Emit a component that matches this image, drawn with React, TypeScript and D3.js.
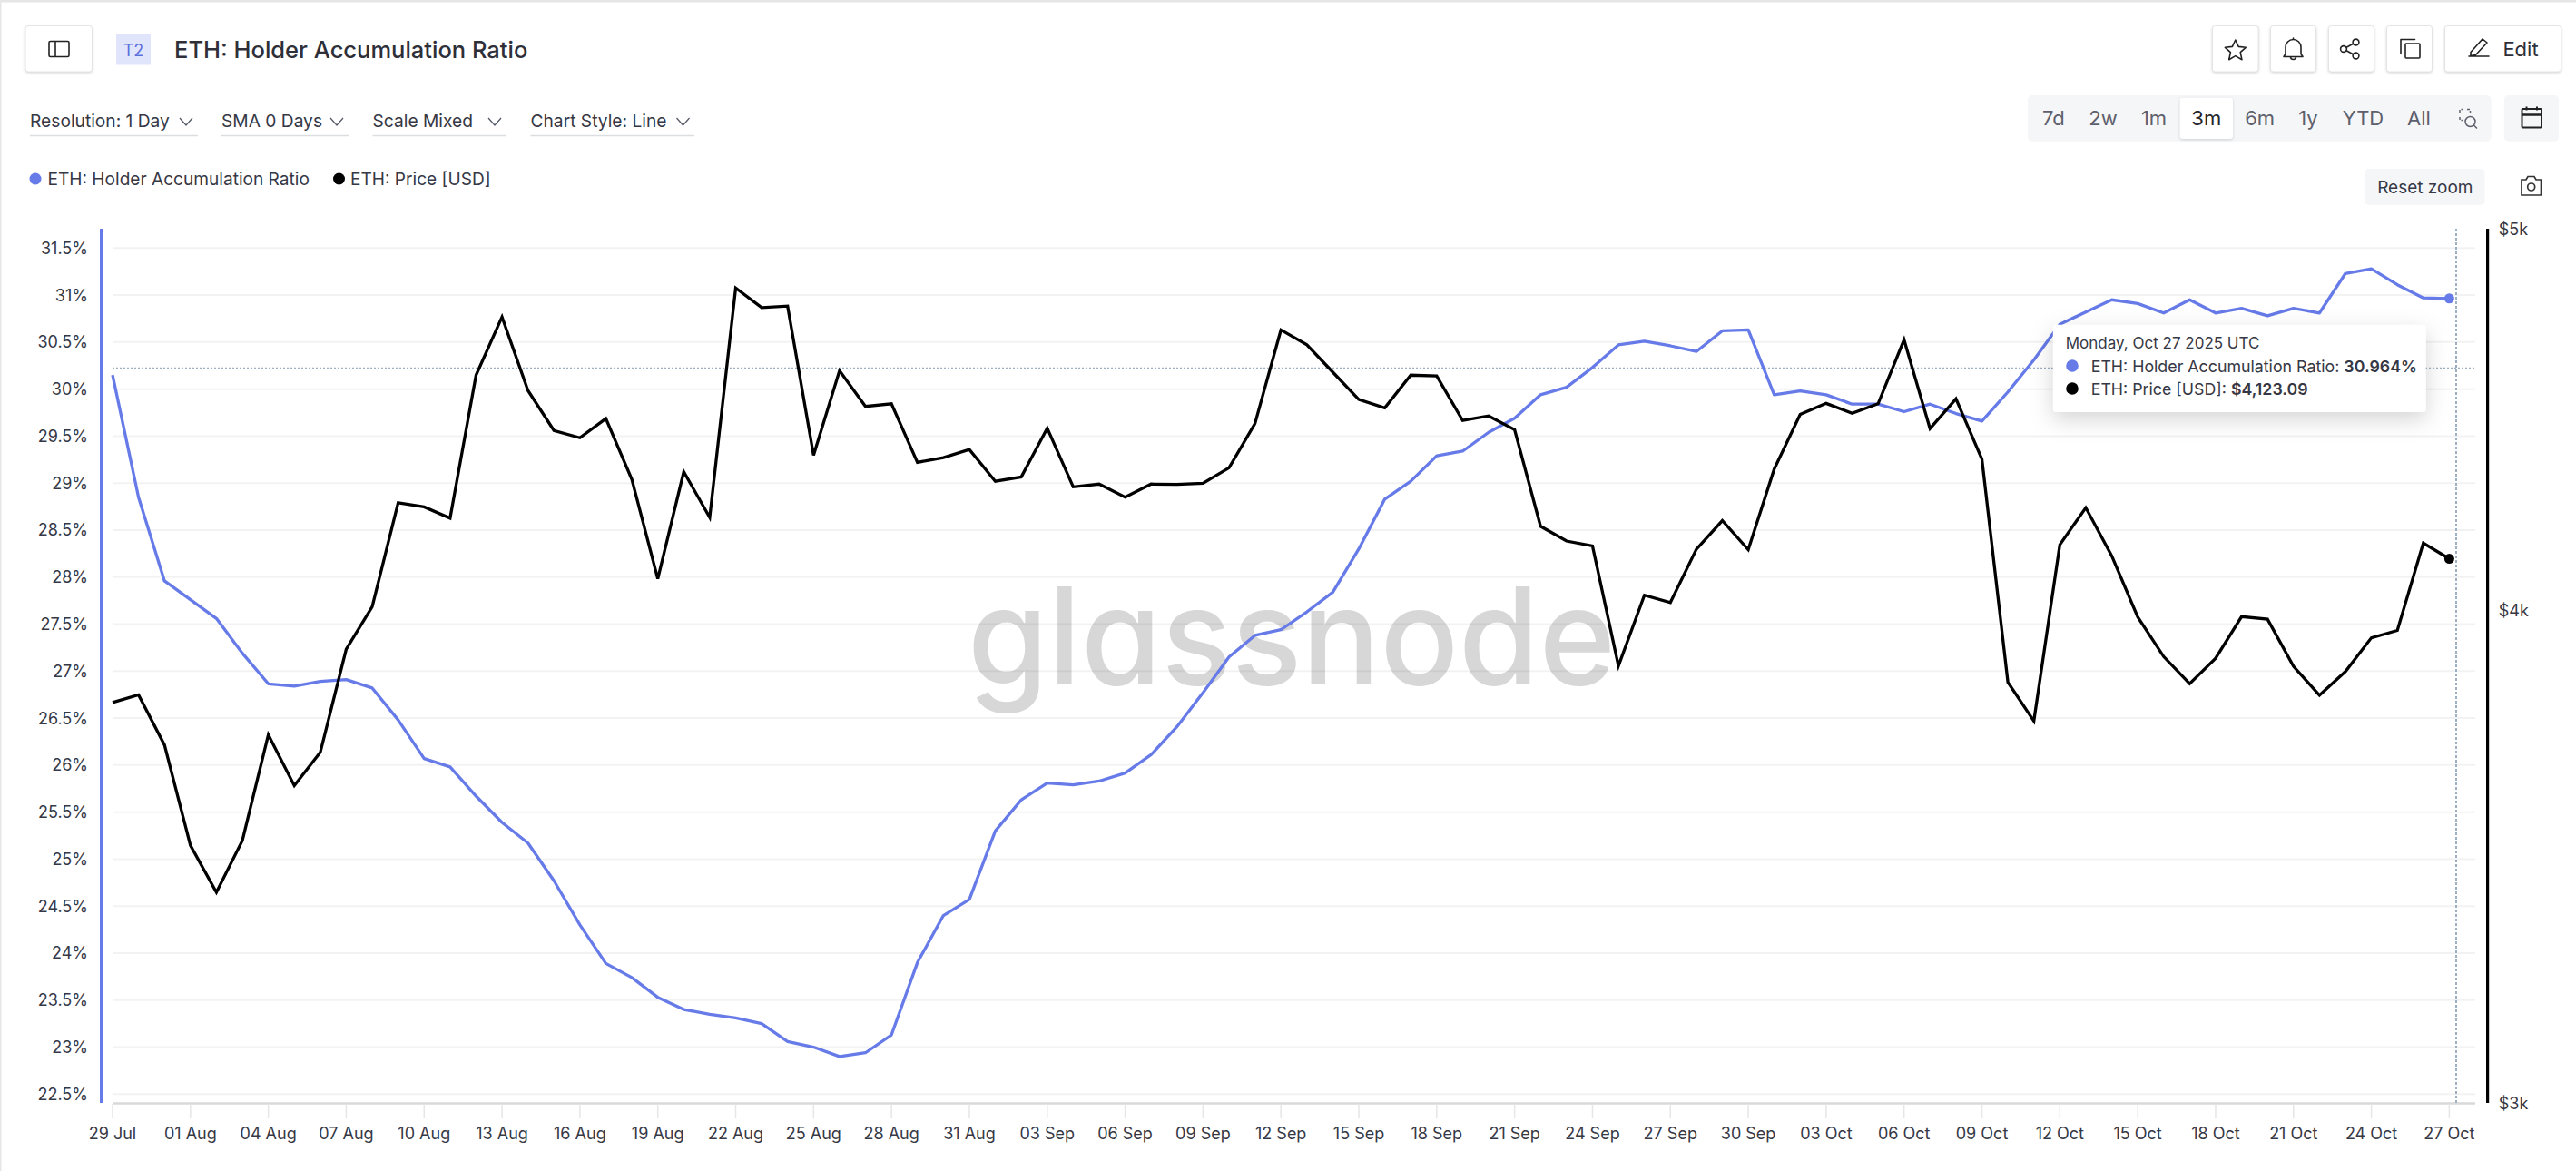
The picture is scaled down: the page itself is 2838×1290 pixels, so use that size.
import React from "react";
import * as d3 from "d3";

const startDate = "2025-07-29";
const ratioValues = [
  30.15, 28.85, 27.96, 27.76, 27.56, 27.19, 26.865, 26.84, 26.89, 26.91, 26.82, 26.48, 26.07, 25.98, 25.67, 25.39,
  25.17, 24.77, 24.30, 23.89, 23.74, 23.53, 23.40, 23.35, 23.31, 23.25, 23.06, 23.00, 22.90, 22.94, 23.13, 23.90,
  24.40, 24.57, 25.30, 25.63, 25.81, 25.79, 25.83, 25.915, 26.11, 26.41, 26.77, 27.15, 27.38, 27.44, 27.63, 27.84,
  28.30, 28.83, 29.02, 29.29, 29.34, 29.54, 29.69, 29.94, 30.02, 30.23, 30.47, 30.51, 30.46, 30.40, 30.62, 30.63,
  29.94, 29.98, 29.94, 29.84, 29.84, 29.76, 29.84, 29.74, 29.66, 29.97, 30.31, 30.69, 30.82, 30.95, 30.91, 30.81,
  30.95, 30.81, 30.86, 30.78, 30.86, 30.81, 31.23, 31.28, 31.11, 30.97, 30.964,
];
const priceValues = [
  3791, 3808, 3698, 3487, 3393, 3497, 3720, 3611, 3682, 3911, 4009, 4260, 4250, 4222, 4590, 4749,
  4549, 4444, 4425, 4475, 4319, 4075, 4338, 4224, 4830, 4775, 4779, 4380, 4602, 4507, 4514, 4362,
  4374, 4395, 4314, 4325, 4450, 4300, 4307, 4274, 4307, 4306, 4309, 4348, 4462, 4713, 4672, 4598,
  4525, 4503, 4590, 4588, 4470, 4482, 4446, 4202, 4166, 4154, 3873, 4036, 4019, 4146, 4216, 4145,
  4345, 4486, 4515, 4489, 4514, 4686, 4449, 4527, 4370, 3836, 3750, 4157, 4248, 4130, 3985, 3894,
  3833, 3890, 3986, 3980, 3872, 3807, 3860, 3937, 3954, 4161, 4123.09,
];
const ratioTicks = [31.5, 31, 30.5, 30, 29.5, 29, 28.5, 28, 27.5, 27, 26.5, 26, 25.5, 25, 24.5, 24, 23.5, 23, 22.5];
const priceTicks = [5000, 4000, 3000];
const priceTickLabels = ["$5k", "$4k", "$3k"];
const controls = [
  { label: "Resolution: 1 Day", x: 33, chev: 205, end: 218 },
  { label: "SMA 0 Days", x: 244, chev: 371, end: 385 },
  { label: "Scale Mixed", x: 410.5, chev: 545, end: 558 },
  { label: "Chart Style: Line", x: 584.5, chev: 752.5, end: 765 },
];
const ranges = [
  { label: "7d", x: 2262.4 },
  { label: "2w", x: 2317 },
  { label: "1m", x: 2373 },
  { label: "3m", x: 2430.8 },
  { label: "6m", x: 2489.6 },
  { label: "1y", x: 2543 },
  { label: "YTD", x: 2603.5 },
  { label: "All", x: 2665 },
];
const iconButtons = [
  [2437.5, 50.5],
  [2501.5, 50],
  [2565.5, 50],
  [2629.5, 50],
];

const BLUE = "#667AE8";
const TEXT = "#363845";
const FONT = "Inter, 'Noto Sans', sans-serif";

const top = 252;
const bottom = 1215;
const gridLeft = 124;
const gridRight = 2727;

export default function App() {
  const start = new Date(startDate + "T00:00:00Z");
  const dates = ratioValues.map((_, i) => d3.utcDay.offset(start, i));
  const x = d3.scaleUtc().domain([dates[0], dates[dates.length - 1]]).range([124, 2698.4]);
  const yL = d3.scaleLinear().domain([22.5, 31.5]).range([1205.3, 273.3]);
  const yR = d3.scaleLog().domain([3000, 5000]).range([bottom, top]);
  const ratioLine = d3.line<number>().x((_, i) => x(dates[i])).y((d) => yL(d));
  const priceLine = d3.line<number>().x((_, i) => x(dates[i])).y((d) => yR(d));
  const xTicks = dates.filter((_, i) => i % 3 === 0);
  const fmt = d3.utcFormat("%d %b");
  const lastX = x(dates[dates.length - 1]);
  const shadow = "drop-shadow(0px 1px 1.5px rgba(0,0,0,0.16))";
  return (
    <svg
      width={2838}
      height={1290}
      viewBox="0 0 2838 1290"
      style={{ position: "absolute", left: 0, top: 0, display: "block", background: "#fff" }}
      fontFamily={FONT}
    >
      <rect x={0} y={0} width={2838} height={2.5} fill="#e6e6e6" />
      <rect x={0} y={0} width={1.5} height={1290} fill="#e6e6e6" />

      {/* header */}
      <rect x={28} y={28.5} width={73.5} height={50.5} rx={3} fill="#fff" stroke="#e3e4e6" style={{ filter: shadow }} />
      <g fill="none" stroke="#222" strokeWidth={1.6}>
        <rect x={54} y={45.5} width={22} height={17} rx={1.5} />
        <line x1={61} y1={45.5} x2={61} y2={62.5} />
      </g>
      <rect x={128} y={38} width={38} height={33.5} fill="#E0E5FB" />
      <text x={147} y={55} textAnchor="middle" dominantBaseline="central" fontSize={18} fill="#5B70DC">T2</text>
      <text x={192} y={54} dominantBaseline="central" fontSize={25.5} fontWeight={500} fill="#2e2f38">ETH: Holder Accumulation Ratio</text>

      {iconButtons.map(([bx, bw], i) => (
        <rect key={i} x={bx} y={28.5} width={bw} height={50.5} rx={3} fill="#fff" stroke="#e3e4e6" style={{ filter: shadow }} />
      ))}
      <rect x={2693.5} y={28.5} width={128} height={50.5} rx={3} fill="#fff" stroke="#e3e4e6" style={{ filter: shadow }} />
      <g fill="none" stroke="#222" strokeWidth={1.6} strokeLinejoin="round" strokeLinecap="round">
        <path d="M2462.8 44l3.4 7.4 8 .9-6 5.4 1.7 8-7.1-4.1-7.1 4.1 1.7-8-6-5.4 8-.9z" />
        <path d="M2526.5 43.5a8.5 8.5 0 0 1 8.5 8.5v7.5l2 3h-21l2-3V52a8.5 8.5 0 0 1 8.5-8.5zM2526.5 43.5V42M2523.5 62.5a3 3 0 0 0 6 0" />
        <circle cx={2595.5} cy={46.5} r={3.4} />
        <circle cx={2582} cy={54} r={3.4} />
        <circle cx={2595.5} cy={61.5} r={3.4} />
        <path d="M2585 52.3l7.5-4.1M2585 55.7l7.5 4.1" />
        <rect x={2650} y={48} width={16} height={16} rx={1} />
        <path d="M2645 59V43.5h15.5" />
        <path d="M2720 62h22M2722 57.5l13-14.5 5 4-12.5 13.5-5.5 1z" />
      </g>
      <text x={2757.4} y={54} dominantBaseline="central" fontSize={22} fill="#2e2f38">Edit</text>

      {/* controls */}
      {controls.map((c) => (
        <g key={c.label}>
          <text x={c.x} y={133} dominantBaseline="central" fontSize={19.2} fill={TEXT}>{c.label}</text>
          <path d={`M${c.chev - 7} ${130}l7 8 7-8`} fill="none" stroke="#555a66" strokeWidth={1.3} />
          <line x1={c.x} x2={c.end} y1={149.5} y2={149.5} stroke="#dcdde0" strokeWidth={1.5} />
        </g>
      ))}

      {/* range bar */}
      <rect x={2234} y={105} width={510.7} height={50.7} rx={5} fill="#F5F6F8" />
      <rect x={2401.6} y={107.7} width={58.4} height={45.3} rx={3} fill="#fff" style={{ filter: shadow }} />
      {ranges.map((r) => (
        <text key={r.label} x={r.x} y={130} textAnchor="middle" dominantBaseline="central" fontSize={22} fill={r.label === "3m" ? "#24252c" : "#5d606c"}>{r.label}</text>
      ))}
      <g fill="none" stroke="#5d606c" strokeWidth={1.5}>
        <path d="M2710 124v-3.5h3.5M2718 120.5h3.5v3.5M2710 129v3.5h3.5" strokeDasharray="3 2" />
        <circle cx={2721.5} cy={134} r={5.5} />
        <path d="M2725.5 138l3.5 3.5" />
      </g>
      <rect x={2758.8} y={105} width={60.2} height={50.7} rx={5} fill="#F5F6F8" />
      <g fill="none" stroke="#222" strokeWidth={2}>
        <rect x={2778.5} y={120} width={21.5} height={20.5} rx={1} />
        <path d="M2778.5 126.5H2800" strokeWidth={2.5} />
        <path d="M2783.5 117.5v4M2795 117.5v4" />
      </g>

      {/* legend */}
      <circle cx={39} cy={197} r={6.5} fill={BLUE} />
      <text x={52.5} y={197} dominantBaseline="central" fontSize={19.1} fill={TEXT}>ETH: Holder Accumulation Ratio</text>
      <circle cx={373.5} cy={197} r={6.5} fill="#000" />
      <text x={386} y={197} dominantBaseline="central" fontSize={19.1} fill={TEXT}>ETH: Price [USD]</text>

      <rect x={2605} y={186} width={132.6} height={40} rx={5} fill="#F5F6F8" />
      <text x={2671.8} y={206} textAnchor="middle" dominantBaseline="central" fontSize={19} fill={TEXT}>Reset zoom</text>
      <g fill="none" stroke="#333" strokeWidth={1.7}>
        <path d="M2778 198h5l2-3.5h7l2 3.5h5.5v17h-21.5z" />
        <circle cx={2788.7} cy={206} r={4} />
      </g>

      {/* watermark */}
      <text
        x={1066}
        y={754}
        fontFamily="Inter, sans-serif"
        fontSize={148}
        fontWeight={500}
        fill="#D7D7D7"
        textLength={714}
        lengthAdjust="spacingAndGlyphs"
        style={{ fontFeatureSettings: "'cv11' 1" }}
      >
        glassnode
      </text>

      {/* grid */}
      {ratioTicks.map((t) => (
        <line key={t} x1={gridLeft} x2={gridRight} y1={yL(t)} y2={yL(t)} stroke="#000" strokeOpacity={0.05} strokeWidth={2} />
      ))}
      {ratioTicks.map((t) => (
        <text key={t} x={97} y={yL(t)} textAnchor="end" dominantBaseline="central" fontSize={18} fill={TEXT}>{t}%</text>
      ))}

      {/* x axis */}
      <line x1={gridLeft} x2={gridRight} y1={bottom + 0.5} y2={bottom + 0.5} stroke="#D9D9D9" strokeWidth={2.5} />
      {xTicks.map((d) => (
        <g key={+d}>
          <line x1={x(d)} x2={x(d)} y1={bottom + 1} y2={1232} stroke="#E6E6E6" strokeWidth={1.5} />
          <text x={x(d)} y={1248} textAnchor="middle" dominantBaseline="central" fontSize={18} fill={TEXT}>{fmt(d)}</text>
        </g>
      ))}

      {/* axes */}
      <line x1={111.6} x2={111.6} y1={top} y2={bottom} stroke={BLUE} strokeWidth={3.2} />
      <line x1={2740.6} x2={2740.6} y1={top} y2={bottom} stroke="#000" strokeWidth={3.2} />
      {priceTicks.map((t, i) => (
        <text key={t} x={2752.8} y={yR(t)} dominantBaseline="central" fontSize={18} fill={TEXT}>{priceTickLabels[i]}</text>
      ))}

      {/* crosshair */}
      <line x1={gridLeft} x2={gridRight} y1={405.7} y2={405.7} stroke="#9DB0C2" strokeWidth={2} strokeDasharray="2 2" />
      <line x1={2706} x2={2706} y1={top} y2={bottom} stroke="#9DB0C2" strokeWidth={2} strokeDasharray="3 2" />

      {/* series */}
      <path d={ratioLine(ratioValues) || ""} fill="none" stroke={BLUE} strokeWidth={3.3} strokeLinejoin="round" />
      <path d={priceLine(priceValues) || ""} fill="none" stroke="#000" strokeWidth={3.3} strokeLinejoin="miter" />
      <circle cx={lastX} cy={yL(ratioValues[90])} r={5.5} fill={BLUE} />
      <circle cx={lastX} cy={yR(priceValues[90])} r={5.5} fill="#000" />

      {/* tooltip */}
      <rect x={2261.8} y={357.7} width={411} height={96.3} rx={3} fill="#fff" style={{ filter: "drop-shadow(0px 8px 12px rgba(0,0,0,0.17))" }} />
      <text x={2275.7} y={378} dominantBaseline="central" fontSize={17} fill={TEXT}>Monday, Oct 27 2025 UTC</text>
      <circle cx={2283} cy={403} r={6.8} fill={BLUE} />
      <text x={2303.7} y={403} dominantBaseline="central" fontSize={17.8} fill={TEXT}>
        ETH: Holder Accumulation Ratio: <tspan fontWeight={600}>30.964%</tspan>
      </text>
      <circle cx={2283} cy={428} r={6.8} fill="#000" />
      <text x={2303.7} y={428} dominantBaseline="central" fontSize={17.8} fill={TEXT}>
        ETH: Price [USD]: <tspan fontWeight={600}>$4,123.09</tspan>
      </text>
    </svg>
  );
}
